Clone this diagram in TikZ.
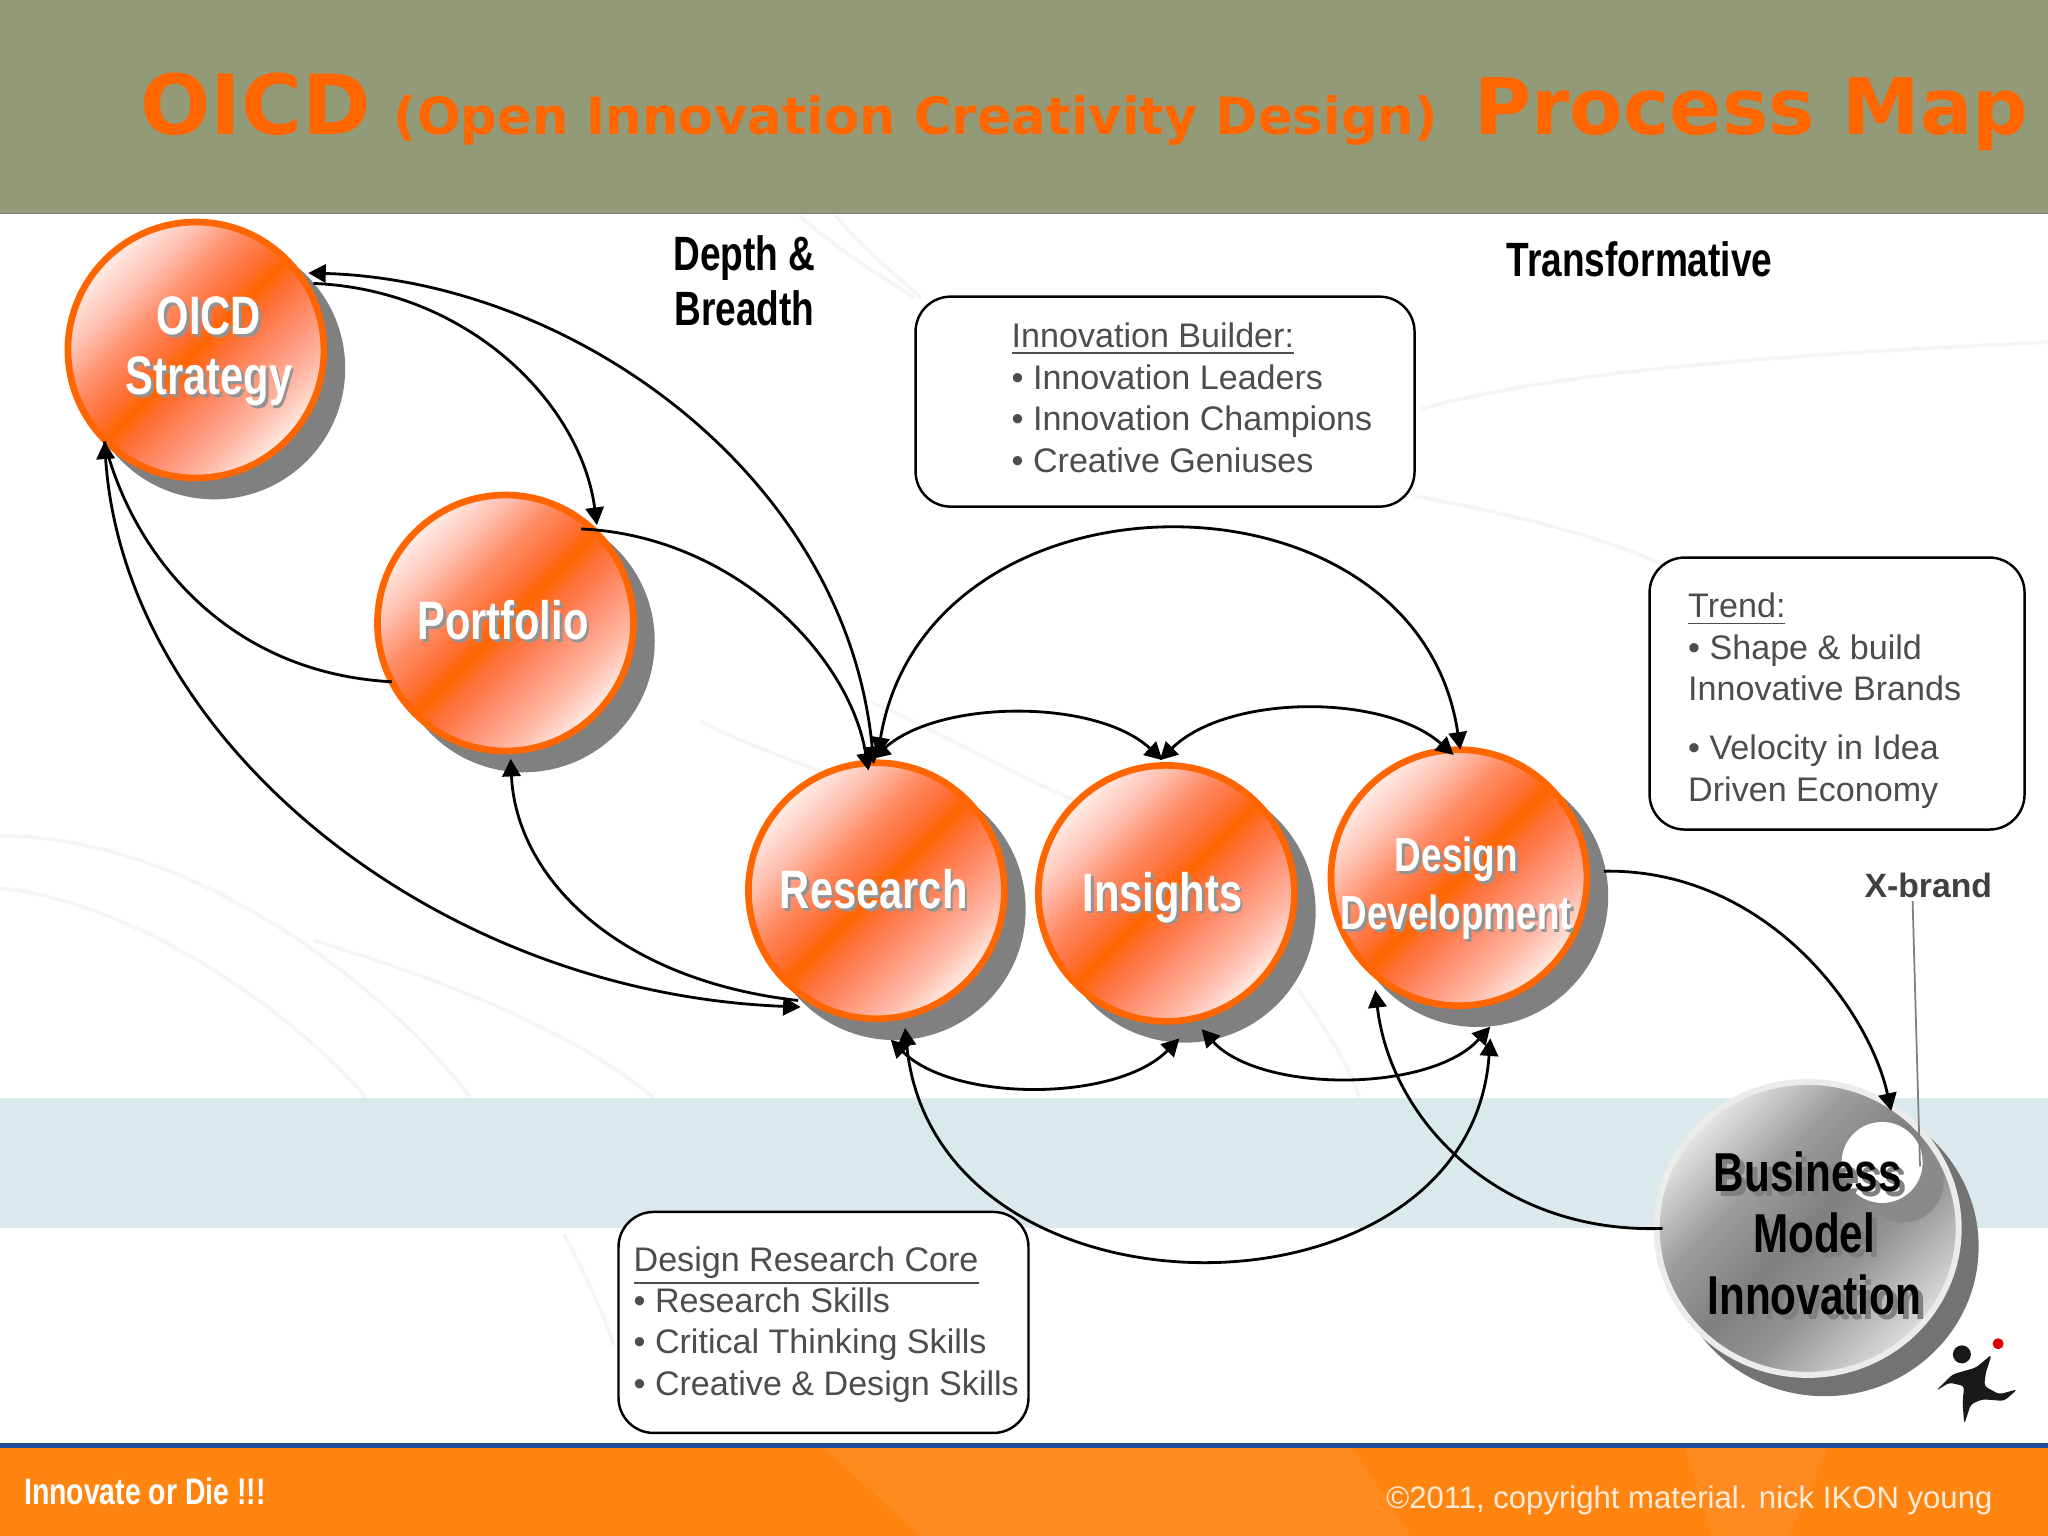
\documentclass[tikz,border=0pt]{standalone}
\usepackage{fontspec}
\setmainfont{Liberation Sans}
\newfontfamily\condfont{Liberation Sans}[FakeStretch=0.77]
\newfontfamily\titlefont{DejaVu Sans}
\usetikzlibrary{arrows.meta,calc,shapes.geometric}
\definecolor{headbg}{HTML}{939A78}
\definecolor{bandbg}{HTML}{DAE9EB}
\definecolor{foot}{HTML}{FF8410}
\definecolor{footlt}{HTML}{FF8B20}
\definecolor{footblue}{HTML}{1F4E9A}
\definecolor{ttl}{HTML}{FF6600}
\definecolor{ring}{HTML}{FF6600}
\definecolor{shd}{HTML}{808080}
\definecolor{note}{HTML}{4D4D4D}
\definecolor{faint}{HTML}{F6F4F6}
\pgfdeclarehorizontalshading{ballshade}{100bp}{
  rgb(0bp)=(1,.95,.93); rgb(25bp)=(1,.93,.91); rgb(33bp)=(1,.75,.69); rgb(40bp)=(1,.55,.40);
  rgb(46bp)=(1,.44,.22); rgb(50bp)=(1,.40,0); rgb(54bp)=(1,.44,.22);
  rgb(60bp)=(1,.55,.42); rgb(68bp)=(1,.72,.65); rgb(75bp)=(1,.93,.90); rgb(100bp)=(1,.95,.93)}
\pgfdeclarehorizontalshading{greyshade}{100bp}{
  rgb(0bp)=(.92,.92,.92); rgb(25bp)=(.90,.90,.90); rgb(38bp)=(.62,.62,.62);
  rgb(50bp)=(.50,.50,.50); rgb(60bp)=(.58,.58,.58); rgb(75bp)=(.86,.86,.86); rgb(100bp)=(.9,.9,.9)}
\newcommand{\shw}[1]{\makebox[0pt][l]{\kern.8pt\raisebox{-.8pt}{\textcolor{gray!85!white}{#1}}}#1}
\newcommand{\shk}[1]{\makebox[0pt][l]{\kern1.4pt\raisebox{-1.4pt}{\textcolor{gray}{#1}}}#1}
\tikzset{
  sphere/.style={circle,minimum size=2.56cm,inner sep=0pt,outer sep=0pt,line width=1.9pt,draw=ring,shade,shading=ballshade,shading angle=-45},
  sphereback/.style={circle,minimum size=2.62cm,inner sep=0pt,fill=shd},
  balltext/.style={align=center,text=white,font=\condfont\bfseries\fontsize{15.4}{17}\selectfont},
  heading/.style={align=center,text=black,font=\condfont\bfseries\fontsize{13.7}{15.6}\selectfont},
  notebox/.style={draw=black,line width=.7pt,rounded corners=10pt,fill=white,inner sep=0pt},
  notetext/.style={inner sep=0pt,anchor=west,align=left,text=note,font=\fontsize{9.7}{11.8}\selectfont},
  flow/.style={black,line width=.8pt},
  oneway/.style={flow,-{Triangle[length=5pt,width=5.2pt]}},
  twoway/.style={flow,{Triangle[length=5pt,width=5.2pt]}-{Triangle[length=5pt,width=5.2pt]}},
  ttlfont/.style={text=ttl,font=\titlefont\bfseries\fontsize{23.6}{26}\selectfont,anchor=base west,inner sep=0pt},
}
\begin{document}
\begin{tikzpicture}[x=0.0130612cm,y=-0.0130612cm]
\useasboundingbox (0,0) rectangle (1568,1176);
% background
\fill[white] (0,0) rectangle (1568,1176);
\begin{scope}[faint,line width=1pt]
\draw (612,165) .. controls (640,190) and (665,205) .. (700,228);
\draw (640,165) .. controls (660,190) and (680,205) .. (705,228);
\draw (1088,313) .. controls (1190,285) and (1350,272) .. (1568,262);
\draw (1083,380) .. controls (1150,392) and (1230,410) .. (1290,440);
\draw (536,552) .. controls (560,565) and (600,580) .. (640,595);
\draw (668,538) .. controls (720,560) and (770,590) .. (821,612);
\draw (993,756) .. controls (1010,780) and (1030,810) .. (1041,840);
\draw (0,640) .. controls (150,640) and (300,760) .. (360,840);
\draw (0,680) .. controls (100,690) and (220,770) .. (280,840);
\draw (240,720) .. controls (340,750) and (440,790) .. (500,840);
\draw (432,945) .. controls (445,970) and (460,1000) .. (470,1030);
\end{scope}
\fill[bandbg] (0,841) rectangle (1568,940);
% header
\fill[headbg] (0,0) rectangle (1568,163);
\draw[gray,line width=.5pt] (0,163.5) -- (1568,163.5);
\node[ttlfont] (ttlA) at (107,103) {OICD};
\node[ttlfont,font=\titlefont\bfseries\fontsize{14.6}{18}\selectfont] (ttlB) at (301,103) {(Open Innovation Creativity Design)};
\node[ttlfont,font=\titlefont\bfseries\fontsize{22.2}{26}\selectfont] (ttlC) at (1128,103) {Process Map};
% footer
\fill[foot] (0,1108) rectangle (1568,1176);
\fill[footlt] (630,1108) -- (1035,1108) -- (1080,1176) -- (705,1176) -- cycle;
\fill[footlt] (1290,1108) -- (1400,1108) -- (1370,1176) -- (1310,1176) -- cycle;
\fill[footblue] (0,1104.5) rectangle (1568,1108.5);
\node[anchor=base west,inner sep=0pt,text=white,font=\condfont\bfseries\fontsize{10.5}{12}\selectfont] (motto) at (18,1152) {Innovate or Die !!!};
\node[anchor=base east,inner sep=0pt,text=orange!15!white,font=\fontsize{8.85}{11}\selectfont] (copy) at (1526,1155) {©2011, copyright material. nick IKON young};
% shadows
\node[sphereback] (oicdB) at (164,282) {};
\node[sphereback] (portB) at (401,491) {};
\node[sphereback] (resB) at (685,696) {};
\node[sphereback] (insB) at (907,698) {};
\node[sphereback] (desB) at (1131,686) {};
\node[ellipse,minimum width=3.08cm,minimum height=2.99cm,inner sep=0pt,fill=shd!110!white] (bmiB) at (1397,954.5) {};
% spheres
\node[sphere] (oicd) at (150,268) {};
\node[sphere] (port) at (387,477) {};
\node[sphere] (res) at (671,682) {};
\node[sphere] (ins) at (893,684) {};
\node[sphere] (des) at (1117,672) {};
\node[ellipse,minimum width=3.02cm,minimum height=2.93cm,inner sep=0pt,line width=1.7pt,draw=black!8,shade,shading=greyshade,shading angle=-45] (bmi) at (1384,940.5) {};
\node[circle,minimum size=.81cm,inner sep=0pt,fill=black!46] (holeB) at (1457,905) {};
\node[circle,minimum size=.81cm,inner sep=0pt,fill=white] (hole) at (1441,890) {};
% sphere text
\node[balltext] (oicdT) at (160,270) {\shw{OICD}\\\shw{Strategy}};
\node[balltext] (portT) at (385,476) {\shw{Portfolio}};
\node[balltext] (resT) at (669,682) {\shw{Research}};
\node[balltext] (insT) at (890,688) {\shw{Insights}};
\node[balltext,font=\condfont\bfseries\fontsize{13.6}{16.5}\selectfont] (desT) at (1115,681) {\shw{Design}\\\shw{Development}};
\node[align=center,text=black,font=\condfont\bfseries\fontsize{15.6}{17.5}\selectfont] (bmiT) at (1389,946) {\shk{Business}\hspace*{3.7pt}\\\shk{Model}\\\shk{Innovation}};
% headings
\node[heading] (depth) at (570,215) {Depth \&\\Breadth};
\node[heading,anchor=base west,inner sep=0pt] (trans) at (1153,212) {Transformative};
\node[anchor=base west,inner sep=0pt,text=black!75,font=\bfseries\fontsize{9.6}{11}\selectfont] (xbrand) at (1427,687) {X-brand};
% notes
\node[notebox,minimum width=4.99cm,minimum height=2.1cm] (ib) at (892,307.5) {};
\node[notetext] (ibT) at ($(ib.west)+(74,-3)$) {\underline{Innovation Builder:}\\• Innovation Leaders\\• Innovation Champions\\• Creative Geniuses};
\node[notebox,minimum width=3.75cm,minimum height=2.72cm] (trend) at (1406.5,531) {};
\node[notetext] (trendT) at ($(trend.west)+(30,5.5)$) {\underline{Trend:}\\• Shape \& build\\Innovative Brands\\[4.9pt]• Velocity in Idea\\Driven Economy};
\node[notebox,minimum width=4.1cm,minimum height=2.21cm] (drc) at (630.5,1012.5) {};
\node[notetext] (drcT) at ($(drc.west)+(12,1.5)$) {\underline{Design Research Core}\\• Research Skills\\• Critical Thinking Skills\\• Creative \& Design Skills};
% connectors
\draw[twoway] ($(oicd)+(86,-59)$) .. controls (440,215) and (648,365) .. ($(res)+(-2,-97)$);
\draw[oneway] ($(oicd)+(90,-51)$) .. controls (360,222) and (445,310) .. ($(port)+(70,-75)$);
\draw[oneway] ($(port)+(58,-72)$) .. controls (560,410) and (650,500) .. ($(res)+(-6,-92)$);
\draw[twoway] ($(res)+(1,-104)$) .. controls (710,350) and (1085,350) .. ($(des)+(1,-98)$);
\draw[flow] ($(port)+(-87,45)$) .. controls (170,515) and (100,420) .. ($(oicd)+(-70,70)$);
\draw[twoway] ($(oicd)+(-70,70)$) .. controls (95,565) and (330,760) .. ($(res)+(-58,89)$);
\draw[oneway] ($(res)+(-60,84)$) .. controls (470,750) and (395,670) .. ($(port)+(4,104)$);
\draw[twoway] ($(res)+(-3,-101)$) .. controls (720,535) and (840,535) .. ($(ins)+(-3,-102)$);
\draw[twoway] ($(ins)+(-5,-102)$) .. controls (940,531) and (1060,531) .. ($(des)+(-4,-94)$);
\draw[twoway] ($(res)+(11,114)$) .. controls (730,844) and (855,844) .. ($(ins)+(10,111)$);
\draw[twoway] ($(ins)+(27,104)$) .. controls (965,837) and (1095,837) .. ($(des)+(24,114)$);
\draw[twoway] ($(res)+(22,105)$) .. controls (715,1021) and (1125,1021) .. ($(des)+(24,123)$);
\draw[oneway] ($(des)+(111,-5)$) .. controls (1350,665) and (1430,770) .. ($(bmi)+(64,-90)$);
\draw[oneway] ($(bmi)+(-111,0)$) .. controls (1150,945) and (1065,860) .. ($(des)+(-64,86)$);
\draw[gray,line width=.5pt] ($(xbrand.south)+(-12,2)$) -- ($(hole)+(29,3)$);
% logo
\begin{scope}[shift={(1225,796.3)},x=0.00333cm,y=-0.00333cm]
\fill[black!90,rounded corners=1pt] (1010,1055) -- (1060,1005) -- (1130,985) -- (1178,945) -- (1160,1000) -- (1155,1040) -- (1200,1065) -- (1255,1050) -- (1215,1085) -- (1150,1080) -- (1115,1095) -- (1095,1155) -- (1090,1090) -- (1095,1040) -- (1050,1030) -- cycle;
\fill[black!90] (1088,945) circle [radius=.09cm];
\fill[red!85!black] (1197,913) circle [radius=.055cm];
\end{scope}
\end{tikzpicture}
\end{document}
